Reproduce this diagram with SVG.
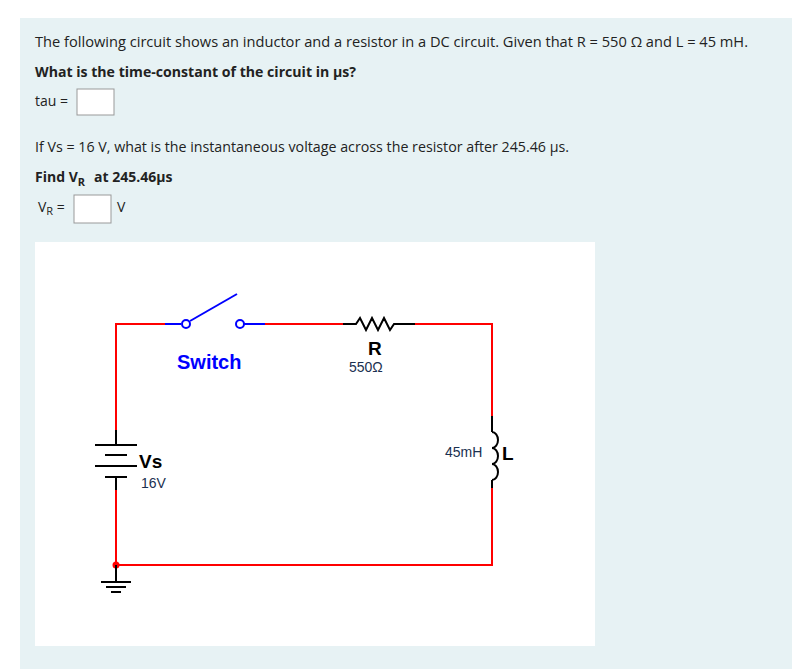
<svg xmlns="http://www.w3.org/2000/svg" width="792" height="669" viewBox="0 0 792 669">
<style>
.t{font-family:"Open Sans","Noto Sans",sans-serif;font-size:14px;fill:#222}
.b{font-weight:bold}
.box{fill:#fff;stroke:#999;stroke-width:1}
.red{stroke:#f00;stroke-width:2;fill:none}
.blk{stroke:#000;stroke-width:2;fill:none}
.blu{stroke:#00f;stroke-width:2;fill:none}
.c{font-family:"Liberation Sans",Arial,sans-serif}
</style>
<rect width="792" height="669" fill="#fff"/>
<rect x="20" y="18" width="772" height="651" fill="#e7f2f4"/>
<text class="t" x="35" y="47" textLength="713" lengthAdjust="spacingAndGlyphs">The following circuit shows an inductor and a resistor in a DC circuit. Given that R = 550 Ω and L = 45 mH.</text>
<text class="t b" x="35" y="77" textLength="321" lengthAdjust="spacingAndGlyphs">What is the time-constant of the circuit in μs?</text>
<text class="t" x="35" y="106">tau =</text>
<rect class="box" x="77" y="89" width="37" height="26"/>
<text class="t" x="35" y="152" textLength="534" lengthAdjust="spacingAndGlyphs">If Vs = 16 V, what is the instantaneous voltage across the resistor after 245.46 μs.</text>
<text class="t b" x="35" y="182">Find V<tspan font-size="11" dy="4">R</tspan><tspan dy="-4" x="94">at 245.46μs</tspan></text>
<text class="t" x="38" y="212">V<tspan font-size="11" dy="3">R</tspan><tspan dy="-3"> =</tspan></text>
<rect class="box" x="74" y="195" width="37" height="28"/>
<text class="t" x="117" y="212">V</text>
<rect x="35" y="242" width="560" height="404" fill="#fff"/>
<g id="connectors">
<polyline class="red" points="165,324 116,324 116,430"/>
<line class="blu" x1="165" y1="324" x2="181" y2="324"/>
<line class="blu" x1="244" y1="324" x2="265" y2="324"/>
<polyline class="red" points="265,324 343,324"/>
<polyline class="red" points="415,324 492,324 492,416"/>
<polyline class="red" points="492,487 492,565 116,565 116,490"/>
</g>
<g id="switch">
<circle class="blu" cx="186" cy="324" r="4"/>
<line class="blu" x1="190" y1="321" x2="237" y2="294"/>
<circle class="blu" cx="240" cy="324" r="4"/>
<text class="c b" x="177" y="369" font-size="20" fill="#00f">Switch</text>
</g>
<g id="resistor">
<polyline class="blk" points="343,324 356,324 360,318 366,330 372,318 378,330 384,318 390,330 394,324 415,324"/>
<text class="c b" x="368" y="355" font-size="19">R</text>
<text class="c" x="349" y="372" font-size="14" fill="#1a3050">550Ω</text>
</g>
<g id="inductor">
<line class="blk" x1="492" y1="416" x2="492" y2="432"/>
<path class="blk" d="M492,432 a6,8 0 0 1 0,16 a6,8 0 0 1 0,16 a6,8 0 0 1 0,16"/>
<line class="blk" x1="492" y1="480" x2="492" y2="488"/>
<text class="c" x="445" y="457" font-size="14" fill="#1a3050">45mH</text>
<text class="c b" x="502" y="460" font-size="19">L</text>
</g>
<g id="source">
<line class="blk" x1="116" y1="430" x2="116" y2="445"/>
<line class="blk" x1="95" y1="445" x2="137" y2="445"/>
<line class="blk" x1="105" y1="455" x2="127" y2="455"/>
<line class="blk" x1="95" y1="466" x2="137" y2="466"/>
<line class="blk" x1="105" y1="477" x2="127" y2="477"/>
<line class="blk" x1="116" y1="477" x2="116" y2="490"/>
<text class="c b" x="139" y="468" font-size="19">Vs</text>
<text class="c" x="141" y="488" font-size="14" fill="#1a3050">16V</text>
</g>
<g id="ground">
<circle cx="116" cy="565" r="3.5" fill="#f00"/>
<line class="blk" x1="116" y1="565" x2="116" y2="582"/>
<line class="blk" x1="101" y1="582" x2="131" y2="582"/>
<line class="blk" x1="106" y1="587" x2="126" y2="587"/>
<line class="blk" x1="111" y1="592" x2="121" y2="592"/>
</g>
</svg>
